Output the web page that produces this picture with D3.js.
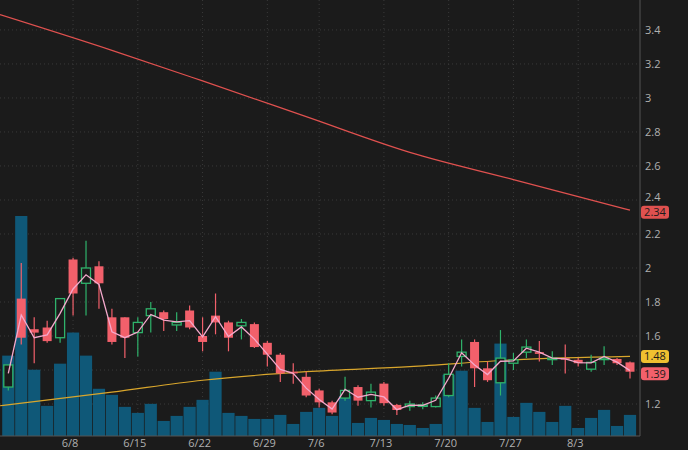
<!DOCTYPE html><html><head><meta charset="utf-8"><script src="https://cdn.jsdelivr.net/npm/d3@7"></script>
<style>body{margin:0;background:#1b1b1b}svg{display:block}</style></head><body><svg id="c" width="688" height="450"></svg><script>
const dates=["6/1","6/2","6/3","6/4","6/5","6/8","6/9","6/10","6/11","6/12","6/15","6/16","6/17","6/18","6/19","6/22","6/23","6/24","6/25","6/26","6/29","6/30","7/1","7/2","7/6","7/7","7/8","7/9","7/10","7/13","7/14","7/15","7/16","7/17","7/20","7/21","7/22","7/23","7/24","7/27","7/28","7/29","7/30","7/31","8/3","8/4","8/5","8/6","8/7"];
const open=[1.30,1.82,1.64,1.65,1.59,2.05,1.91,2.01,1.71,1.71,1.62,1.72,1.74,1.665,1.75,1.60,1.72,1.68,1.66,1.67,1.56,1.49,1.39,1.36,1.28,1.21,1.235,1.30,1.22,1.32,1.195,1.185,1.19,1.185,1.25,1.48,1.565,1.41,1.325,1.44,1.505,1.505,1.47,1.47,1.46,1.405,1.47,1.465,1.445];
const high=[1.43,2.03,1.71,1.69,1.82,2.06,2.16,2.04,1.76,1.71,1.71,1.80,1.75,1.74,1.78,1.71,1.85,1.69,1.70,1.68,1.57,1.50,1.44,1.39,1.29,1.22,1.36,1.31,1.32,1.33,1.20,1.22,1.21,1.25,1.44,1.58,1.58,1.45,1.635,1.50,1.58,1.57,1.51,1.55,1.47,1.49,1.54,1.47,1.45];
const low=[1.28,1.55,1.44,1.56,1.56,1.72,1.72,1.76,1.55,1.47,1.48,1.62,1.63,1.63,1.64,1.51,1.61,1.51,1.58,1.53,1.42,1.33,1.32,1.24,1.18,1.14,1.22,1.19,1.18,1.19,1.135,1.16,1.17,1.18,1.24,1.42,1.30,1.33,1.25,1.40,1.47,1.45,1.43,1.38,1.42,1.39,1.43,1.43,1.35];
const close=[1.43,1.59,1.62,1.57,1.82,1.85,2.00,1.91,1.565,1.59,1.68,1.76,1.70,1.68,1.65,1.565,1.68,1.59,1.68,1.535,1.49,1.38,1.38,1.25,1.21,1.15,1.28,1.22,1.27,1.205,1.165,1.20,1.195,1.235,1.375,1.505,1.41,1.34,1.47,1.46,1.535,1.495,1.47,1.465,1.44,1.445,1.47,1.44,1.39];
const volume=[80,219,66,30,72,103,80,47,41,29,23,32,15,20,29,36,64,23,20,17,17,21,12,24,28,20,40,13,18,16,12,11,8,12,61,65,28,14,92,19,33,24,14,30,8,18,26,10,21];
const maSlowIdx=[0,8,15,23,31,39,48];
const maSlow=[3.49,3.28,3.10,2.89,2.68,2.52,2.34];
const maMidIdx=[0,8,15,23,31,39,48];
const maMid=[1.19,1.27,1.34,1.39,1.42,1.46,1.48];
const priceTicks=[1.2,1.4,1.6,1.8,2,2.2,2.4,2.6,2.8,3,3.2,3.4];
const dateTicks=["6/8","6/15","6/22","6/29","7/6","7/13","7/20","7/27","8/3"];

const svg=d3.select("#c");
const W=640,B=436;
svg.append("rect").attr("width",688).attr("height",450).attr("fill","#1b1b1b");
const x=d3.scaleLinear().domain([0,dates.length-1]).range([8.3,630]);
const y=d3.scaleLinear().domain([1.012,3.576]).range([B,0]);
const vy=d3.scaleLinear().domain([0,219]).range([B,216]);
const g=svg.append("g");
g.selectAll(".hg").data(priceTicks).join("line").attr("x1",0).attr("x2",W).attr("y1",d=>y(d)).attr("y2",d=>y(d)).attr("stroke","#3a3a3a").attr("stroke-dasharray","1,3");
g.selectAll(".vg").data(dateTicks).join("line").attr("x1",d=>x(dates.indexOf(d))).attr("x2",d=>x(dates.indexOf(d))).attr("y1",0).attr("y2",B).attr("stroke","#3a3a3a").attr("stroke-dasharray","1,3");
const bw=11.6;
g.selectAll(".v").data(volume).join("rect").attr("x",(d,i)=>x(i)-bw/2-0.3).attr("width",bw+0.6).attr("y",d=>vy(d)).attr("height",d=>B-vy(d)).attr("fill","#0f5878");
const ln=d3.line().curve(d3.curveMonotoneX);
g.append("path").attr("d",ln(maSlowIdx.map((d,i)=>[i==0?0:x(d),y(maSlow[i])]))).attr("fill","none").attr("stroke","#e0514f").attr("stroke-width",1.2);
g.append("path").attr("d",ln(maMidIdx.map((d,i)=>[i==0?0:x(d),y(maMid[i])]))).attr("fill","none").attr("stroke","#d9a62c").attr("stroke-width",1.2);
const cw=9;
dates.forEach((d,i)=>{
 const up=close[i]>=open[i], col=up?"#2fb36b":"#f2606b";
 const cx=x(i);
 g.append("line").attr("x1",cx).attr("x2",cx).attr("y1",y(high[i])).attr("y2",y(low[i])).attr("stroke",col).attr("stroke-width",1.2);
 const t=y(Math.max(open[i],close[i])), b=y(Math.min(open[i],close[i]));
 g.append("rect").attr("x",cx-cw/2).attr("width",cw).attr("y",t).attr("height",Math.max(1.5,b-t)).attr("fill",up?"#1b1b1b":col).attr("stroke",col).attr("stroke-width",up?1.3:0);
});
g.append("path").attr("d",d3.line()(dates.map((d,i)=>[x(i),y((high[i]+low[i]+close[i])/3)]))).attr("fill","none").attr("stroke","#f4a9cc").attr("stroke-width",1.3);
svg.append("line").attr("x1",W).attr("x2",W).attr("y1",0).attr("y2",B).attr("stroke","#555");
svg.append("line").attr("x1",0).attr("x2",W).attr("y1",B).attr("y2",B).attr("stroke","#555");
svg.selectAll(".pt").data(priceTicks.filter(d=>d!==1.4)).join("text").attr("x",W+5).attr("y",d=>y(d)+(d===2.4?1:4)).text(d=>d).attr("fill","#b0b0b0").attr("font-family","Open Sans").attr("font-size",11);
svg.selectAll(".dt").data(dateTicks).join("text").attr("x",d=>x(dates.indexOf(d))-3).attr("y",447).attr("text-anchor","middle").text(d=>d).attr("fill","#b0b0b0").attr("font-family","Open Sans").attr("font-size",11);
[[maSlow[maSlow.length-1],"#e0514f"],[maMid[maMid.length-1],"#f0c030"],[close[close.length-1],"#f2606b"]].forEach(([v,c],k)=>{
 const gy=y(v)+(k==0?2:k==2?2:0);
 svg.append("rect").attr("x",W+1).attr("y",gy-6.5).attr("width",28).attr("height",13).attr("rx",3).attr("fill",c);
 svg.append("text").attr("x",W+15).attr("y",gy+4).attr("text-anchor","middle").text(v.toFixed(2)).attr("fill","#1b1b1b").attr("font-family","Open Sans").attr("font-size",11);
});
</script></body></html>
